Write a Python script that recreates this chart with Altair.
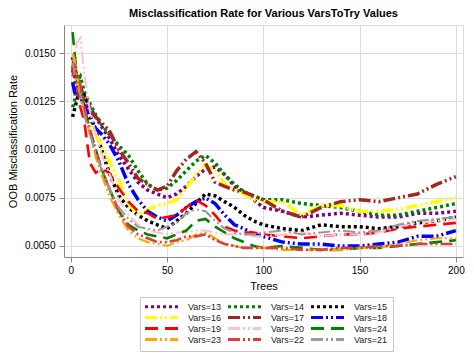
import altair as alt
import pandas as pd

TREES = [1, 2, 3, 5, 7, 10, 13, 16, 20, 25, 30, 35, 40, 45, 50, 55, 60, 65, 70, 75,
         80, 85, 90, 95, 100, 110, 120, 130, 140, 150, 160, 170, 180, 190, 200]

SERIES = ["Vars=13", "Vars=14", "Vars=15", "Vars=16", "Vars=17", "Vars=18",
          "Vars=19", "Vars=20", "Vars=24", "Vars=23", "Vars=22", "Vars=21"]

V13 = [0.0148, 0.0138, 0.0130, 0.0132, 0.0128, 0.0122, 0.0117, 0.0112, 0.0106, 0.0097, 0.0090, 0.0083,
       0.0079, 0.0077, 0.0075, 0.0077, 0.0081, 0.0086, 0.0090, 0.0091, 0.0087, 0.0081, 0.0078, 0.0074,
       0.0070, 0.0068, 0.0065, 0.0066, 0.0067, 0.0066, 0.0065, 0.0065, 0.0067, 0.0067, 0.0068]
V14 = [0.0122, 0.0125, 0.0135, 0.0138, 0.0130, 0.0124, 0.0118, 0.0113, 0.0108, 0.0102, 0.0097, 0.0089,
       0.0082, 0.0079, 0.0080, 0.0084, 0.0089, 0.0094, 0.0097, 0.0093, 0.0087, 0.0082, 0.0078, 0.0076,
       0.0074, 0.0074, 0.0072, 0.0071, 0.0070, 0.0068, 0.0066, 0.0066, 0.0068, 0.0070, 0.0072]
V15 = [0.0117, 0.0121, 0.0125, 0.0132, 0.0128, 0.0118, 0.0110, 0.0100, 0.0088, 0.0076, 0.0070, 0.0066,
       0.0063, 0.0061, 0.0059, 0.0063, 0.0067, 0.0072, 0.0077, 0.0076, 0.0073, 0.0070, 0.0066, 0.0063,
       0.0061, 0.0059, 0.0058, 0.0061, 0.0060, 0.0060, 0.0059, 0.0060, 0.0062, 0.0063, 0.0065]
V16 = [0.0145, 0.0140, 0.0135, 0.0128, 0.0120, 0.0113, 0.0108, 0.0102, 0.0094, 0.0084, 0.0072, 0.0066,
       0.0069, 0.0071, 0.0072, 0.0074, 0.0080, 0.0087, 0.0092, 0.0089, 0.0082, 0.0079, 0.0077, 0.0074,
       0.0073, 0.0073, 0.0066, 0.0071, 0.0071, 0.0068, 0.0068, 0.0069, 0.0071, 0.0073, 0.0075]
V17 = [0.0140, 0.0148, 0.0135, 0.0130, 0.0125, 0.0120, 0.0117, 0.0114, 0.0110, 0.0100, 0.0093, 0.0085,
       0.0082, 0.0079, 0.0081, 0.0089, 0.0095, 0.0099, 0.0093, 0.0083, 0.0081, 0.0079, 0.0078, 0.0076,
       0.0074, 0.0068, 0.0065, 0.0070, 0.0073, 0.0074, 0.0073, 0.0075, 0.0077, 0.0082, 0.0086]
V18 = [0.0135, 0.0130, 0.0128, 0.0127, 0.0123, 0.0116, 0.0111, 0.0108, 0.0103, 0.0094, 0.0082, 0.0074,
       0.0068, 0.0065, 0.0063, 0.0066, 0.0070, 0.0073, 0.0075, 0.0072, 0.0066, 0.0061, 0.0059, 0.0056,
       0.0055, 0.0052, 0.0051, 0.0051, 0.0050, 0.0050, 0.0051, 0.0052, 0.0055, 0.0055, 0.0058]
V19 = [0.0142, 0.0148, 0.0135, 0.0122, 0.0115, 0.0093, 0.0088, 0.0090, 0.0088, 0.0080, 0.0073, 0.0068,
       0.0067, 0.0064, 0.0065, 0.0066, 0.0070, 0.0074, 0.0071, 0.0066, 0.0060, 0.0058, 0.0057, 0.0057,
       0.0056, 0.0055, 0.0054, 0.0055, 0.0056, 0.0056, 0.0057, 0.0059, 0.0060, 0.0061, 0.0062]
V20 = [0.0150, 0.0145, 0.0155, 0.0158, 0.0140, 0.0120, 0.0108, 0.0098, 0.0088, 0.0074, 0.0066, 0.0061,
       0.0058, 0.0057, 0.0056, 0.0057, 0.0057, 0.0058, 0.0058, 0.0057, 0.0056, 0.0056, 0.0056, 0.0055,
       0.0055, 0.0056, 0.0057, 0.0055, 0.0056, 0.0056, 0.0057, 0.0060, 0.0062, 0.0063, 0.0064]
V21 = [0.0145, 0.0140, 0.0135, 0.0128, 0.0118, 0.0108, 0.0098, 0.0090, 0.0080, 0.0070, 0.0064, 0.0060,
       0.0059, 0.0058, 0.0060, 0.0062, 0.0067, 0.0069, 0.0068, 0.0063, 0.0059, 0.0057, 0.0056, 0.0056,
       0.0057, 0.0058, 0.0056, 0.0057, 0.0058, 0.0057, 0.0058, 0.0061, 0.0063, 0.0064, 0.0065]
V22 = [0.0138, 0.0143, 0.0140, 0.0134, 0.0122, 0.0110, 0.0100, 0.0090, 0.0080, 0.0068, 0.0060, 0.0056,
       0.0054, 0.0052, 0.0052, 0.0053, 0.0055, 0.0055, 0.0056, 0.0053, 0.0051, 0.0050, 0.0049, 0.0049,
       0.0049, 0.0049, 0.0048, 0.0048, 0.0049, 0.0049, 0.0050, 0.0050, 0.0051, 0.0051, 0.0051]
V23 = [0.0150, 0.0147, 0.0140, 0.0130, 0.0120, 0.0108, 0.0096, 0.0087, 0.0076, 0.0066, 0.0058, 0.0054,
       0.0052, 0.0051, 0.0050, 0.0052, 0.0053, 0.0056, 0.0057, 0.0054, 0.0051, 0.0050, 0.0049, 0.0049,
       0.0049, 0.0048, 0.0048, 0.0048, 0.0048, 0.0049, 0.0049, 0.0051, 0.0053, 0.0054, 0.0054]
V24 = [0.0161, 0.0150, 0.0140, 0.0132, 0.0122, 0.0110, 0.0100, 0.0090, 0.0080, 0.0068, 0.0061, 0.0058,
       0.0056, 0.0055, 0.0054, 0.0056, 0.0058, 0.0063, 0.0064, 0.0060, 0.0057, 0.0054, 0.0052, 0.0050,
       0.0049, 0.0050, 0.0049, 0.0048, 0.0048, 0.0049, 0.0049, 0.0050, 0.0051, 0.0052, 0.0053]

VALUES = {"Vars=13": V13, "Vars=14": V14, "Vars=15": V15, "Vars=16": V16,
          "Vars=17": V17, "Vars=18": V18, "Vars=19": V19, "Vars=20": V20,
          "Vars=24": V24, "Vars=23": V23, "Vars=22": V22, "Vars=21": V21}

rows = []
for name in SERIES:
    for t, v in zip(TREES, VALUES[name]):
        rows.append({"Vars": name, "Trees": t, "Rate": v})
df = pd.DataFrame(rows)

COLORS = ["#800080", "#008000", "#000000", "#FFFF00", "#A0291F", "#0000FF",
          "#FF0000", "#FFC0CB", "#008000", "#FFA500", "#E03C3C", "#999999"]
DOT = [3, 3]
DDD = [12, 3, 2, 3, 2, 3]
LONG = [13, 7]
DASHES = [DOT, DOT, DOT, DDD, DDD, DDD, LONG, DDD, LONG, DDD, DDD, DDD]

THICK = "['Vars=13','Vars=14','Vars=15','Vars=16','Vars=17','Vars=18']"
MID = "['Vars=19','Vars=24','Vars=22']"
W_EXPR = f"indexof({THICK}, datum.Vars) >= 0 ? 3.5 : (indexof({MID}, datum.Vars) >= 0 ? 2.6 : 2.1)"

FONT = "Liberation Sans"

legend = alt.Legend(
    title=None, orient="none", legendX=76, legendY=272, columns=3,
    direction="horizontal", gridAlign="all",
    symbolType="M-5.5,0H5.5", symbolSize=36, symbolOffset=12, labelOffset=22,
    symbolStrokeWidth=3,
    columnPadding=0, rowPadding=-3.5, padding=5,
    strokeColor="#c8c8c8", fillColor="white",
    labelFont=FONT, labelFontSize=9, labelColor="#222222",
)

chart = alt.Chart(df).transform_calculate(
    w=W_EXPR
).mark_line(strokeCap="butt").encode(
    x=alt.X("Trees:Q",
            scale=alt.Scale(domain=[-3.48, 203.7], nice=False, zero=False),
            axis=alt.Axis(values=[0, 50, 100, 150, 200], title="Trees", format="d",
                          labelPadding=3, titlePadding=5, titleFontWeight="normal")),
    y=alt.Y("Rate:Q",
            scale=alt.Scale(domain=[0.004428, 0.016471], nice=False, zero=False),
            axis=alt.Axis(values=[0.005, 0.0075, 0.01, 0.0125, 0.015], format=".4f",
                          title="OOB Misclassification Rate", labelPadding=4, titlePadding=6,
                          titleFontWeight="normal")),
    color=alt.Color("Vars:N", scale=alt.Scale(domain=SERIES, range=COLORS), legend=legend),
    strokeDash=alt.StrokeDash("Vars:N", scale=alt.Scale(domain=SERIES, range=DASHES), legend=legend),
    strokeWidth=alt.StrokeWidth("w:Q", scale=None, legend=None),
).properties(
    width=399, height=232,
    padding={"left": 64, "top": 25, "right": 11, "bottom": 96},
    autosize=alt.AutoSizeParams(type="none"),
    title=alt.TitleParams("Misclassification Rate for Various VarsToTry Values",
                          font=FONT, fontSize=11, fontWeight="bold", color="#000000",
                          anchor="middle", frame="group", offset=6),
).configure_view(
    stroke="#b4b4b4", strokeWidth=1
).configure_axis(
    domain=False, grid=False, tickSize=5, tickColor="#888888",
    labelFont=FONT, labelFontSize=9, labelColor="#222222",
    titleFont=FONT, titleFontSize=9.5, titleFontWeight="normal", titleColor="#222222",
).configure(background="white")

chart.save("out.html", embed_options={"renderer": "svg", "actions": False})
